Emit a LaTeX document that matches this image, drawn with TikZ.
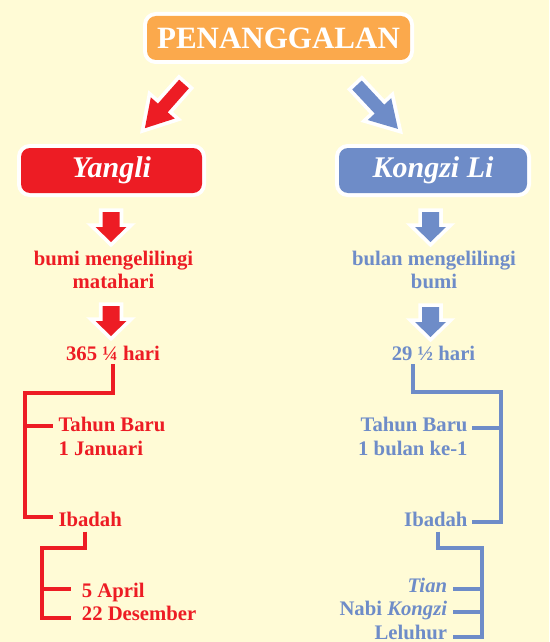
\documentclass[tikz,border=0pt]{standalone}
\usepackage{fontspec}
\setmainfont{Liberation Serif}
\definecolor{bgc}{HTML}{FFFBD6}
\definecolor{myred}{HTML}{ED1C24}
\definecolor{myblue}{HTML}{6E8CC8}
\definecolor{myorange}{HTML}{FBA94C}
\newcommand\blockarr[8]{%
  \begin{scope}[shift={(#1,#2)},rotate=#3]
    \path[preaction={draw=white,line width=7.5pt,line join=miter}, fill=#8]
      (0,-#5/2) -- (#4-#7,-#5/2) -- (#4-#7,-#6/2) -- (#4,0) --
      (#4-#7,#6/2) -- (#4-#7,#5/2) -- (0,#5/2) -- cycle;
  \end{scope}}
\begin{document}
\begin{tikzpicture}[x=1pt,y=-1pt,
  boxnode/.style={rounded corners=9pt, inner sep=0pt, text=white,
    preaction={draw=white,line width=8pt}},
  txt/.style={font=\bfseries\fontsize{20.7}{23.4}\selectfont, inner sep=0pt},
  treeline/.style={line width=4pt, line join=miter}]
\useasboundingbox[fill=bgc] (0,0) rectangle (549,642);

% title and category boxes
\node[boxnode, fill=myorange, minimum width=263pt, minimum height=44pt,
  font=\bfseries\fontsize{31}{31}\selectfont] (pen) at (278.5,38) {PENANGGALAN};
\node[boxnode, fill=myred, minimum width=181pt, minimum height=45pt,
  font=\bfseries\itshape\fontsize{30}{30}\selectfont] (yang) at (111.5,170.5) {Yangli};
\node[boxnode, fill=myblue, minimum width=188pt, minimum height=45pt,
  font=\bfseries\itshape\fontsize{30}{30}\selectfont] (kong) at (433,170.5) {Kongzi Li};

% big arrows
\blockarr{184}{84}{228.5}{59}{13}{32}{27}{myred}
\blockarr{357}{85}{-47}{60}{13}{32}{27}{myblue}

% small arrows
\blockarr{111}{212}{-90}{30}{17}{31}{15}{myred}
\blockarr{111}{306}{-90}{30}{17}{31}{15}{myred}
\blockarr{430.5}{212}{-90}{30}{17}{31}{15}{myblue}
\blockarr{430.5}{307}{-90}{30}{17}{31}{15}{myblue}

% red column (multi-line nodes: base = baseline of last line)
\node[txt, text=myred, anchor=base, align=center] (rm) at (113.5,288.5) {bumi mengelilingi\\matahari};
\node[txt, text=myred, anchor=base] (r3) at (113,360) {365 ¼ hari};
\node[txt, text=myred, anchor=base west, align=left] (rt) at (58.3,455) {Tahun Baru\\1 Januari};
\node[txt, text=myred, anchor=base west] (ri) at (58.3,526) {Ibadah};
\node[txt, text=myred, anchor=base west, align=left] (ra) at (81.7,620.7) {5 April\\22 Desember};

% blue column
\node[txt, text=myblue, anchor=base, align=center] (bm) at (434,288.5) {bulan mengelilingi\\bumi};
\node[txt, text=myblue, anchor=base] (b3) at (433.5,360) {29 ½ hari};
\node[txt, text=myblue, anchor=base east, align=right] (bt) at (467.7,455) {Tahun Baru\\1 bulan ke-1};
\node[txt, text=myblue, anchor=base east] (bi) at (467.7,526) {Ibadah};
\node[txt, text=myblue, anchor=base east, align=right] (ba) at (447.3,639.2) {\textit{Tian}\\Nabi \textit{Kongzi}\\Leluhur};

% red tree
\coordinate (rc1) at (25,392.5);
\coordinate (rc2) at (53,426);
\coordinate (rc3) at (53,517);
\draw[treeline, myred] ([yshift=-4pt]r3.base) |- (rc1) |- (rc3);
\draw[treeline, myred] (rc1 |- rc2) -- (rc2);
\coordinate (rs0) at (85.3,531.7);
\coordinate (rs1) at (42,548);
\coordinate (rs2) at (71,589);
\coordinate (rs3) at (71,617.5);
\draw[treeline, myred] (rs0) |- (rs1) |- (rs3);
\draw[treeline, myred] (rs1 |- rs2) -- (rs2);

% blue tree
\coordinate (bc1) at (501,392);
\coordinate (bc2) at (472.3,427.7);
\coordinate (bc3) at (472.3,521.7);
\draw[treeline, myblue] ([yshift=-4pt]b3.base) ++(-20.5,0) |- (bc1) |- (bc3);
\draw[treeline, myblue] (bc1 |- bc2) -- (bc2);
\coordinate (bs0) at (438.3,531.7);
\coordinate (bs1) at (481.7,548);
\coordinate (bs2) at (453.3,589);
\coordinate (bs3) at (453.3,612.3);
\coordinate (bs4) at (453.3,637);
\draw[treeline, myblue] (bs0) |- (bs1) |- (bs4);
\draw[treeline, myblue] (bs1 |- bs2) -- (bs2);
\draw[treeline, myblue] (bs1 |- bs3) -- (bs3);
\end{tikzpicture}
\end{document}
